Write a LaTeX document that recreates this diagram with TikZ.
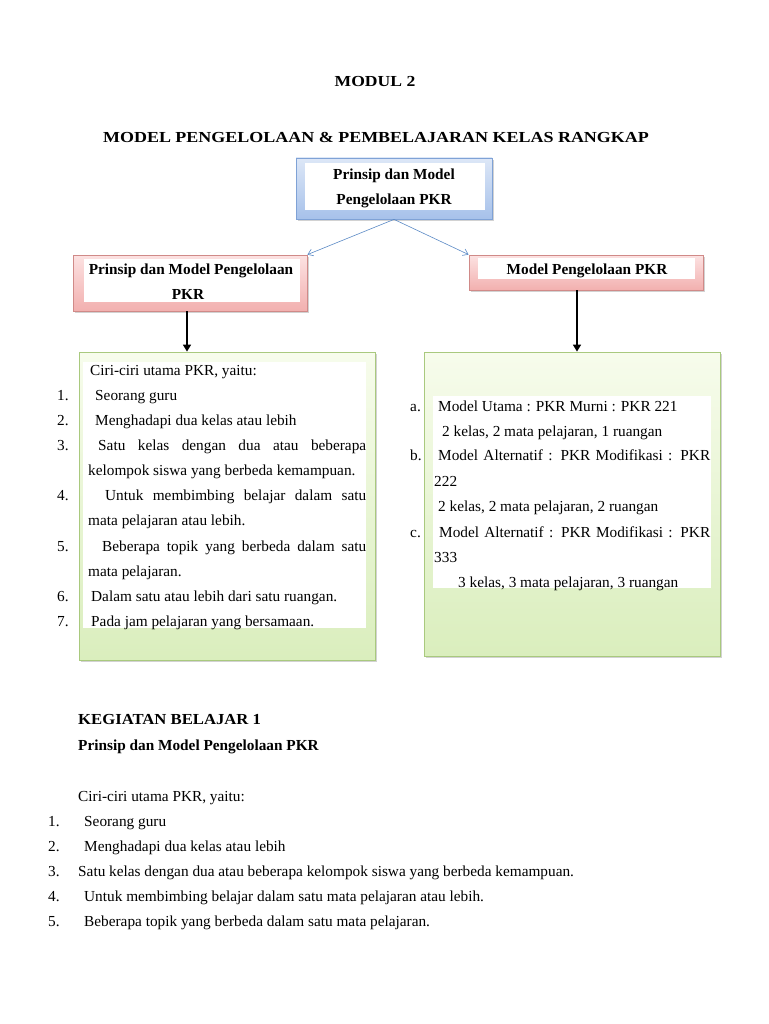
\documentclass[tikz,border=0pt]{standalone}
\usepackage{fontspec}
\setmainfont{Liberation Serif}
\usetikzlibrary{arrows.meta,shadows}
\definecolor{bluetop}{HTML}{DDE7F7}
\definecolor{bluebot}{HTML}{A6C1EA}
\definecolor{blueline}{HTML}{7FA2D6}
\definecolor{pinktop}{HTML}{FCE2E2}
\definecolor{pinkbot}{HTML}{F2B0AF}
\definecolor{pinkline}{HTML}{D08A88}
\definecolor{greentop}{HTML}{F7FCEC}
\definecolor{greenbot}{HTML}{DAEEBD}
\definecolor{greenline}{HTML}{A9C97E}
\definecolor{arrowblue}{HTML}{5B8AC6}
\begin{document}
\begin{tikzpicture}[x=1pt,y=-1pt,
  txt/.style={anchor=base west, inner sep=0pt, yshift=-1.5pt, font=\fontsize{15.3}{18}\selectfont},
  btxt/.style={anchor=base west, inner sep=0pt, yshift=-1.5pt, font=\fontsize{15.3}{18}\selectfont\bfseries},
  shade box/.style={draw, line width=0.8pt, inner sep=0pt,
     drop shadow={opacity=0.35, shadow xshift=1.5pt, shadow yshift=-2pt}},
  bluebox/.style={shade box, draw=blueline, top color=bluetop, bottom color=bluebot},
  pinkbox/.style={shade box, draw=pinkline, top color=pinktop, bottom color=pinkbot},
  greenbox/.style={shade box, draw=greenline, top color=greentop, bottom color=greenbot},
  whitebox/.style={fill=white, draw=none, inner sep=0pt},
  blarrow/.style={draw=arrowblue, line width=0.6pt, -{Straight Barb[length=5pt,width=7pt]}},
  bkarrow/.style={draw=black, line width=1.6pt, -{Triangle[length=7pt,width=8pt]}}
]
\useasboundingbox[fill=white] (0,0) rectangle (768,1024);

% titles
\node[btxt, anchor=base] (title1) at (375,85) {\scalebox{1.15}[1]{MODUL 2}};
\node[btxt, anchor=base] (title2) at (376,141) {\scalebox{1.175}[1]{MODEL PENGELOLAAN \& PEMBELAJARAN KELAS RANGKAP}};

% top blue box
\node[bluebox, minimum width=196pt, minimum height=61pt] (top) at (394,188.5) {};
\node[whitebox, minimum width=180pt, minimum height=47pt] (topin) at (395,186.5) {};
\node[btxt, anchor=base] (t1) at (394,178.5) {Prinsip dan Model};
\node[btxt, anchor=base] (t2) at (394,203.5) {Pengelolaan PKR};

% left pink box
\node[pinkbox, minimum width=234pt, minimum height=56pt] (lbox) at (190,283) {};
\node[whitebox, minimum width=216pt, minimum height=43pt] (lboxin) at (192,280.5) {};
\node[btxt, anchor=base] (l1) at (191,272.5) {Prinsip dan Model Pengelolaan};
\node[btxt, anchor=base] (l2) at (188,297.5) {PKR};

% right pink box
\node[pinkbox, minimum width=234pt, minimum height=35pt] (rbox) at (586,272.5) {};
\node[whitebox, minimum width=217pt, minimum height=21pt] (rboxin) at (586.5,268.5) {};
\node[btxt, anchor=base] (r1) at (587,272.5) {Model Pengelolaan PKR};

% green boxes
\node[greenbox, minimum width=296pt, minimum height=308pt] (lgreen) at (227,506) {};
\node[whitebox, minimum width=283pt, minimum height=266pt] (lgreenin) at (224.5,495) {};
\node[greenbox, minimum width=296pt, minimum height=304pt] (rgreen) at (572,504) {};
\node[whitebox, minimum width=278pt, minimum height=192pt] (rgreenin) at (572,492) {};

% connectors
\draw[blarrow] (top.south) -- (lbox.north east);
\draw[blarrow] (top.south) -- (rbox.north west);
\draw[bkarrow] ([xshift=-3pt]lbox.south) -- ([xshift=-3pt]lbox.south |- lgreen.north);
\draw[bkarrow] ([xshift=-9pt]rbox.south) -- ([xshift=-9pt]rbox.south |- rgreen.north);

% left list
\node[txt] (lc) at (90,373.5) {Ciri-ciri utama PKR, yaitu:};
\node[txt] (ln1) at (57,398.5) {1.};
\node[txt] (li1) at (95,398.5) {Seorang guru};
\node[txt] (ln2) at (57,423.5) {2.};
\node[txt] (li2) at (95,423.5) {Menghadapi dua kelas atau lebih};
\node[txt] (ln3) at (57,448.5) {3.};
\node[txt] (li3) at (98,448.5) {\makebox[268pt][s]{Satu kelas dengan dua atau beberapa}};
\node[txt] (li3b) at (88,473.5) {kelompok siswa yang berbeda kemampuan.};
\node[txt] (ln4) at (57,498.5) {4.};
\node[txt] (li4) at (105,498.5) {\makebox[261pt][s]{Untuk membimbing belajar dalam satu}};
\node[txt] (li4b) at (88,523.5) {mata pelajaran atau lebih.};
\node[txt] (ln5) at (57,549.5) {5.};
\node[txt] (li5) at (102,549.5) {\makebox[264pt][s]{Beberapa topik yang berbeda dalam satu}};
\node[txt] (li5b) at (88,574.5) {mata pelajaran.};
\node[txt] (ln6) at (57,599.5) {6.};
\node[txt] (li6) at (91,599.5) {Dalam satu atau lebih dari satu ruangan.};
\node[txt] (ln7) at (57,624.5) {7.};
\node[txt] (li7) at (91,624.5) {Pada jam pelajaran yang bersamaan.};

% right list
\node[txt] (ra) at (410,409.5) {a.};
\node[txt] (ri1) at (438,409.5) {Model Utama : PKR Murni : PKR 221};
\node[txt] (ri1b) at (442,434.5) {2 kelas, 2 mata pelajaran, 1 ruangan};
\node[txt] (rb) at (410,458.5) {b.};
\node[txt] (ri2) at (438,458.5) {\makebox[272pt][s]{Model Alternatif : PKR Modifikasi : PKR}};
\node[txt] (ri2b) at (434,484.5) {222};
\node[txt] (ri2c) at (438,509.5) {2 kelas, 2 mata pelajaran, 2 ruangan};
\node[txt] (rc) at (410,535.5) {c.};
\node[txt] (ri3) at (439,535.5) {\makebox[271pt][s]{Model Alternatif : PKR Modifikasi : PKR}};
\node[txt] (ri3b) at (434,560.5) {333};
\node[txt] (ri3c) at (458,585.5) {3 kelas, 3 mata pelajaran, 3 ruangan};

% bottom section
\node[btxt] (kb) at (78,722.5) {\scalebox{1.09}[1]{KEGIATAN BELAJAR 1}};
\node[btxt] (kb2) at (78,748.5) {Prinsip dan Model Pengelolaan PKR};
\node[txt] (bc) at (78,799.5) {Ciri-ciri utama PKR, yaitu:};
\node[txt] (bn1) at (48,824.5) {1.};
\node[txt] (bi1) at (84,824.5) {Seorang guru};
\node[txt] (bn2) at (48,849.5) {2.};
\node[txt] (bi2) at (84,849.5) {Menghadapi dua kelas atau lebih};
\node[txt] (bn3) at (48,874.5) {3.};
\node[txt] (bi3) at (78,874.5) {Satu kelas dengan dua atau beberapa kelompok siswa yang berbeda kemampuan.};
\node[txt] (bn4) at (48,899.5) {4.};
\node[txt] (bi4) at (84,899.5) {Untuk membimbing belajar dalam satu mata pelajaran atau lebih.};
\node[txt] (bn5) at (48,924.5) {5.};
\node[txt] (bi5) at (84,924.5) {Beberapa topik yang berbeda dalam satu mata pelajaran.};
\end{tikzpicture}
\end{document}
